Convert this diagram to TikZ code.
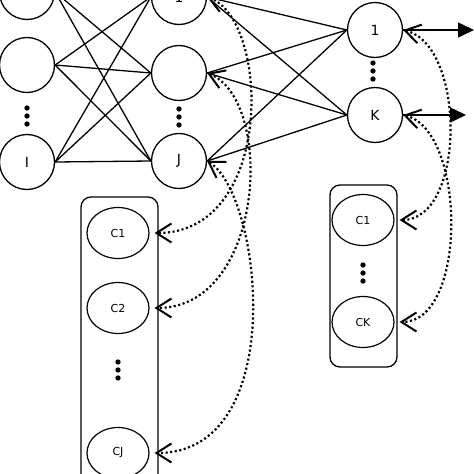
\documentclass[tikz,border=0pt]{standalone}
\usepackage{fontspec}
\setmainfont{DejaVu Sans}
\usetikzlibrary{arrows.meta,shapes.geometric}
\tikzset{myb/.tip={Straight Barb[length=15pt,width=19pt,line width=2pt]}}
\begin{document}
\begin{tikzpicture}[x=1pt,y=-1pt,
  neuron/.style={circle,draw,line width=1.3pt,minimum size=55pt,inner sep=0pt,font=\fontsize{14}{14}\selectfont,fill=white},
  cell/.style={ellipse,draw,line width=1.2pt,minimum width=62pt,minimum height=51pt,inner sep=0pt,font=\fontsize{11}{11}\selectfont},
  group/.style={draw,line width=1.3pt,rounded corners=10pt},
  wire/.style={line width=1.3pt},
  fb/.style={line width=2.2pt,dash pattern=on 2.1pt off 2.5pt,myb-myb},
  outarrow/.style={line width=1.5pt,-{Triangle[length=16pt,width=15pt]}},
  vdot/.style={fill=black}
]
\useasboundingbox (0,0) rectangle (474,474);
\clip (0,0) rectangle (474,474);

% groups
\draw[group] (81,197) rectangle (158,500);
\draw[group] (330,185) rectangle (397,367);

% neurons
\node[neuron] (i1) at (27,-8) {};
\node[neuron] (i2) at (27,65) {};
\node[neuron] (iI) at (27,162) {I};
\node[neuron] (h1) at (179,-3) {1};
\node[neuron] (h2) at (179,73) {};
\node[neuron] (hJ) at (179,161) {J};
\node[neuron] (o1) at (375,30) {1};
\node[neuron] (oK) at (375,115) {K};

% context cells
\node[cell] (lc1) at (118,233) {C1};
\node[cell] (lc2) at (118,308) {C2};
\node[cell] (lcJ) at (118,453) {CJ};
\node[cell] (rc1) at (363,220) {C1};
\node[cell] (rcK) at (363,322) {CK};

% vertical dots
\foreach \x/\y in {27/108,179/109,373/63,118/362,363/265}{
  \fill[vdot] (\x,\y) circle (2.7pt);
  \fill[vdot] (\x,\y+8) circle (2.7pt);
  \fill[vdot] (\x,\y+16) circle (2.7pt);
}

% input -> hidden
\foreach \a in {i1,i2,iI}{
  \foreach \b in {h1,h2,hJ}{
    \draw[wire] (\a.east) -- (\b.west);
  }
}
% hidden -> output
\foreach \a in {h1,h2,hJ}{
  \foreach \b in {o1,oK}{
    \draw[wire] (\b.west) -- (\a.east);
  }
}

% outputs
\coordinate (e1) at (474,30);
\coordinate (eK) at (466,115);
\draw[outarrow] (o1.east) -- (e1);
\draw[outarrow] (oK.east) -- (eK);

% feedback curves
\draw[fb] (h1.east) .. controls (270,20) and (275,233) .. ([xshift=5pt]lc1.east);
\draw[fb] (h2.east) .. controls (275,100) and (265,308) .. ([xshift=5pt]lc2.east);
\draw[fb] (hJ.east) .. controls (262,195) and (290,453) .. ([xshift=5pt]lcJ.east);
\draw[fb] (o1.east) .. controls (466,45) and (466,220) .. ([xshift=5pt]rc1.east);
\draw[fb] (oK.east) .. controls (466,130) and (468,322) .. ([xshift=5pt]rcK.east);
\end{tikzpicture}
\end{document}
